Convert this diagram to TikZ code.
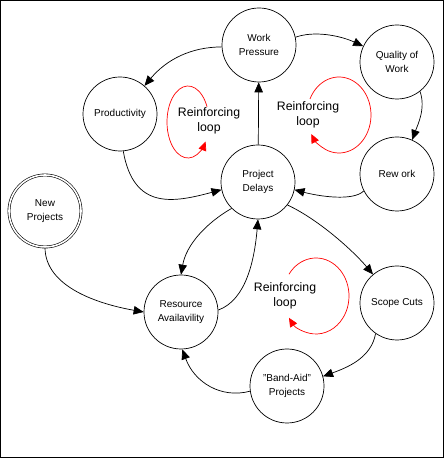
\documentclass[tikz,border=0pt]{standalone}
\usepackage{fontspec}
\setmainfont{Liberation Sans}
\usetikzlibrary{arrows.meta}

\begin{document}
\begin{tikzpicture}[x=1pt,y=1pt,
  >={Triangle[length=10pt,width=8.5pt]},
  var/.style={circle,draw,line width=0.7pt,minimum size=74pt,inner sep=0pt,
    align=center,font=\fontsize{10}{13.5}\selectfont},
  lp/.style={align=center,font=\fontsize{12.3}{14.5}\selectfont},
  loopline/.style={red,line width=0.7pt,->,>={Triangle[length=9pt,width=8pt]}}]

\useasboundingbox (0,0) rectangle (444,458);
\draw[line width=1pt] (0.5,0.5) rectangle (443.5,457.5);

%\tikzset{level distance=42pt}

\node[var] (wp) at (259,413) {Work\\Pressure};
\node[var] (qw) at (397,396) {Quality of\\Work};
\node[var] (rw) at (397,284) {Rew ork};
\node[var] (pd) at (258,276) {Project\\Delays};
\node[var] (pr) at (120,344) {Productivity};
\node[var,double,line width=0.6pt,double distance=1.6pt,minimum size=72pt] (np) at (45,247) {New\\Projects};
\node[var] (ra) at (181,146) {Resource\\Availavility};
\node[var] (sc) at (397,155) {Scope Cuts};
\node[var] (ba) at (287,72) {"Band-Aid"\\Projects};

\node[lp] (l1) at (209,337) {Reinforcing\\loop};
\node[lp] (l2) at (308,343) {Reinforcing\\loop};
\node[lp] (l3) at (285,162) {Reinforcing\\loop};
\coordinate (c1) at (188,336);
\coordinate (c2) at (339,343);
\coordinate (c3) at (316,162);
\draw[loopline] ([shift={(25:21 and 36)}]c1) arc[start angle=25,end angle=327,x radius=21,y radius=36];
\draw[loopline] ([shift={(155:32 and 38)}]c2) arc[start angle=155,end angle=-150,x radius=32,y radius=38];
\draw[loopline] ([shift={(145:33 and 38)}]c3) arc[start angle=145,end angle=-145,x radius=33,y radius=38];

\draw[line width=0.7pt,->] (wp.183)..controls +(180:30) and +(50:35) .. (pr.49);
\draw[line width=0.7pt,->] (wp.12)..controls +(20:20) and +(155:25) .. (qw.155);
\draw[line width=0.7pt,->] (qw.-52)..controls +(-70:18) and +(70:15) .. (rw.66);
\draw[line width=0.7pt,->] (rw.207)..controls +(225:15) and +(-15:25) .. (pd.-12);
\draw[line width=0.7pt,->] (pd) -- (wp);
\draw[line width=0.7pt,->] (pr.-85)..controls +(-80:60) and +(195:50) .. (pd.192);
\draw[line width=0.7pt,->] (pd.-38)..controls +(-25:35) and +(130:30) .. (sc.130);
\draw[line width=0.7pt,->] (pd.225)..controls +(210:30) and +(80:30) .. (ra.90);
\draw[line width=0.7pt,->] (ra.3)..controls +(20:30) and +(-95:40) .. (pd.-90);
\draw[line width=0.7pt,->] (np.-90)..controls +(-90:40) and +(170:45) .. (ra.180);
\draw[line width=0.7pt,->] (sc.-125)..controls +(-100:25) and +(20:25) .. (ba.15);
\draw[line width=0.7pt,->] (ba.188)..controls +(195:30) and +(-70:35) .. (ra.-88);
\end{tikzpicture}
\end{document}
